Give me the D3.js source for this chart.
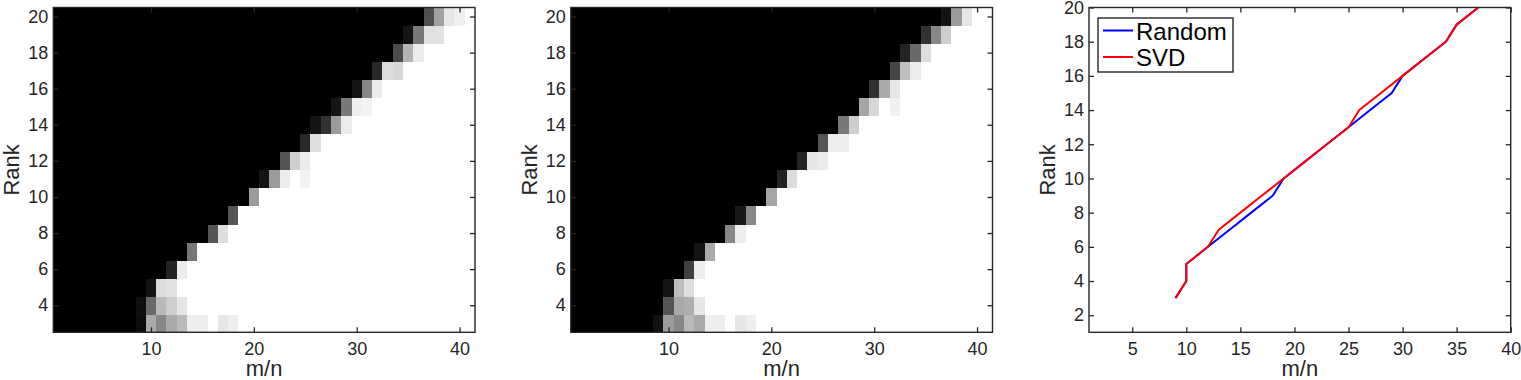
<!DOCTYPE html>
<html><head><meta charset="utf-8">
<script src="https://cdn.jsdelivr.net/npm/d3@7"></script>
<style>
body{margin:0;background:#fff}
svg text{font-family:"Liberation Sans",Arial,Helvetica,sans-serif;fill:#262626}
</style>
</head><body>
<svg id="chart" width="1521" height="380"></svg>
<script>
// ---------------- data ----------------
const ranks = [3,4,5,6,7,8,9,10,11,12,13,14,15,16,17,18,19,20];
const mnColumns = [1,2,3,4,5,6,7,8,9,10,11,12,13,14,15,16,17,18,19,20,21,22,23,24,25,26,27,28,29,30,31,32,33,34,35,36,37,38,39,40,41];

// Heatmap A (left panel): per rank, first non-black column and the gray levels (0=black,255=white) that follow; rest white
const heatAStart = [9,9,10,12,14,16,18,20,21,23,25,26,28,30,32,34,35,37];
const heatAGray = [
  [12,170,135,170,185,238,238,255,230,238],
  [15,105,185,205,230],
  [20,220,225],
  [35,235],
  [120],
  [85,222],
  [85],
  [155],
  [20,155,235,255,242],
  [85,205,235],
  [40,222],
  [20,50,155,235],
  [20,120,238,242],
  [20,135,235],
  [40,220,215],
  [75,180,235],
  [20,120,225,225],
  [80,160,230,240]
];

// Heatmap B (middle panel)
const heatBStart = [9,10,10,12,13,16,17,20,21,23,25,27,29,30,32,33,35,37];
const heatBGray = [
  [18,155,135,185,170,238,238,255,230,238],
  [85,170,175,230],
  [20,190,222],
  [65,238],
  [20,170],
  [135,238],
  [25,135],
  [165],
  [35,220],
  [35,230,235],
  [85,238,238],
  [120,205],
  [165,215,255,240],
  [50,170,232],
  [70,190,235],
  [35,105,222],
  [50,135,205],
  [20,155,230]
];

// Line chart (right panel): m/n at which each rank transitions
const mnRandom = [9,10,10,12,14,16,18,19,21,23,25,27,29,30,32,34,35,37];
const mnSVD    = [9,10,10,12,13,15,17,19,21,23,25,26,28,30,32,34,35,37];

const heatXTicks = [10,20,30,40];
const heatYTicks = [4,6,8,10,12,14,16,18,20];
const lineXTicks = [5,10,15,20,25,30,35,40];
const lineYTicks = [2,4,6,8,10,12,14,16,18,20];
const seriesNames = ["Random","SVD"];
const seriesColors = ["#0000ff","#ff0000"];

// ---------------- layout ----------------
const svg = d3.select("#chart");
const plotTop = 7.5, plotBottom = 332.3, pw = 421.7;
const lefts = [53.3, 570.8, 1089];
const ink = "#262626";

function frameAndAxes(g, x, y, xt, yt) {
  const tl = 5;
  g.append("g").attr("transform",`translate(0,${plotBottom})`)
    .call(d3.axisBottom(x).tickValues(xt).tickSizeInner(-tl).tickSizeOuter(0).tickPadding(9.5))
    .call(a=>{a.select(".domain").remove(); a.selectAll("line").attr("stroke",ink).attr("stroke-width",1.3);
      a.selectAll("text").attr("font-size",18).style("fill",ink).attr("font-family",null);});
  g.append("g").attr("transform",`translate(0,${plotTop})`)
    .call(d3.axisTop(x).tickValues(xt).tickSizeInner(-tl).tickSizeOuter(0).tickFormat(""))
    .call(a=>{a.select(".domain").remove(); a.selectAll("line").attr("stroke",ink).attr("stroke-width",1.3);});
  g.append("g").attr("transform",`translate(${x.range()[0]},0)`)
    .call(d3.axisLeft(y).tickValues(yt).tickSizeInner(-tl).tickSizeOuter(0).tickPadding(5))
    .call(a=>{a.select(".domain").remove(); a.selectAll("line").attr("stroke",ink).attr("stroke-width",1.3);
      a.selectAll("text").attr("font-size",18).style("fill",ink).attr("font-family",null);});
  g.append("g").attr("transform",`translate(${x.range()[1]},0)`)
    .call(d3.axisRight(y).tickValues(yt).tickSizeInner(-tl).tickSizeOuter(0).tickFormat(""))
    .call(a=>{a.select(".domain").remove(); a.selectAll("line").attr("stroke",ink).attr("stroke-width",1.3);});
  g.append("rect").attr("x",x.range()[0]).attr("y",plotTop)
    .attr("width",x.range()[1]-x.range()[0]).attr("height",plotBottom-plotTop)
    .attr("fill","none").attr("stroke",ink).attr("stroke-width",1.4);
  const cx = (x.range()[0]+x.range()[1])/2;
  g.append("text").attr("x",cx).attr("y",376).attr("text-anchor","middle")
    .attr("font-size",22).text("m/n");
  g.append("text").attr("transform",`translate(${x.range()[0]-34},${(plotTop+plotBottom)/2}) rotate(-90)`)
    .attr("text-anchor","middle").attr("font-size",22).text("Rank");
}

function heatPanel(left, starts, grays) {
  const g = svg.append("g");
  const x = d3.scaleLinear().domain([0.5,41.5]).range([left,left+pw]);
  const y = d3.scaleLinear().domain([2.5,20.5]).range([plotBottom,plotTop]);
  const cells = [];
  ranks.forEach((r,i)=>{
    mnColumns.forEach(c=>{
      let v;
      if (c < starts[i]) v = 0;
      else if (c - starts[i] < grays[i].length) v = grays[i][c-starts[i]];
      else v = 255;
      cells.push({r,c,v});
    });
  });
  g.append("g").attr("shape-rendering","crispEdges").selectAll("rect").data(cells).join("rect")
    .attr("x",d=>x(d.c-0.5)).attr("y",d=>y(d.r+0.5))
    .attr("width",d=>x(d.c+0.5)-x(d.c-0.5)+0.5).attr("height",d=>y(d.r-0.5)-y(d.r+0.5)+0.5)
    .attr("fill",d=>d3.rgb(d.v,d.v,d.v));
  frameAndAxes(g,x,y,heatXTicks,heatYTicks);
}

heatPanel(lefts[0], heatAStart, heatAGray);
heatPanel(lefts[1], heatBStart, heatBGray);

// line panel
{
  const g = svg.append("g");
  const left = lefts[2];
  const x = d3.scaleLinear().domain([1,40]).range([left,left+pw]);
  const y = d3.scaleLinear().domain([1,20]).range([plotBottom,plotTop]);
  const line = d3.line().x(d=>x(d[0])).y(d=>y(d[1]));
  [mnRandom, mnSVD].forEach((s,k)=>{
    g.append("path").datum(s.map((m,i)=>[m,ranks[i]]))
      .attr("d",line).attr("fill","none").attr("stroke",seriesColors[k])
      .attr("stroke-width",2).attr("stroke-linejoin","round");
  });
  frameAndAxes(g,x,y,lineXTicks,lineYTicks);
  // legend
  const lg = g.append("g");
  lg.append("rect").attr("x",1098).attr("y",18).attr("width",135).attr("height",54)
    .attr("fill","#fff").attr("stroke",ink).attr("stroke-width",1.4);
  const ly = [30.5, 57];
  seriesNames.forEach((n,k)=>{
    lg.append("line").attr("x1",1103).attr("x2",1133).attr("y1",ly[k]).attr("y2",ly[k])
      .attr("stroke",seriesColors[k]).attr("stroke-width",2);
    lg.append("text").attr("x",1136).attr("y",ly[k]+9).attr("font-size",24).style("fill","#000").text(n);
  });
}
</script>
</body></html>
